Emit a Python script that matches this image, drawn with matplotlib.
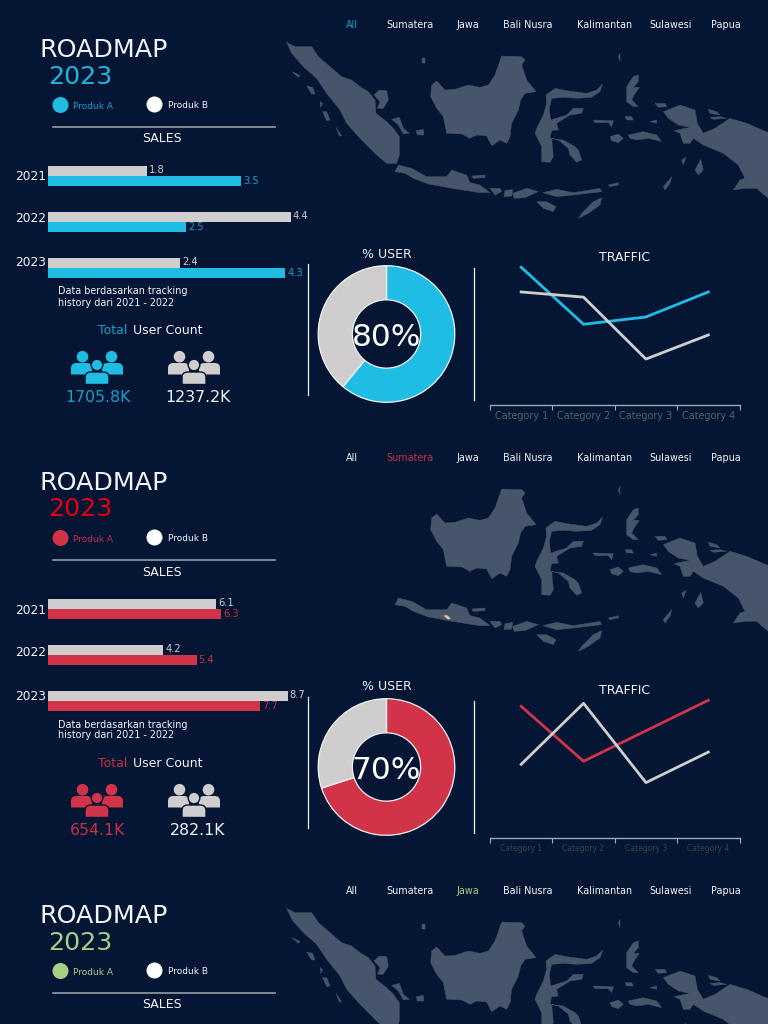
import matplotlib
matplotlib.use("Agg")
import matplotlib.pyplot as plt
from matplotlib.patches import Circle, PathPatch, Polygon
from matplotlib.path import Path

BG = "#041633"
LAND = "#465569"
GREY = "#cfcdce"
WHITE = "#f2f4f7"
RULE = "#a3a8b3"

regions = ["All", "Sumatera", "Jawa", "Bali Nusra", "Kalimantan", "Sulawesi", "Papua"]
categories = ["Category 1", "Category 2", "Category 3", "Category 4"]
years = ["2021", "2022", "2023"]

sales_a_all = [3.5, 2.5, 4.3]
sales_b_all = [1.8, 4.4, 2.4]
sales_a_sumatera = [6.3, 5.4, 7.7]
sales_b_sumatera = [6.1, 4.2, 8.7]

traffic_a_all = [4.5, 2.63, 2.87, 3.69]
traffic_b_all = [3.69, 3.52, 1.49, 2.28]
traffic_a_sumatera = [4.3, 2.5, 3.5, 4.5]
traffic_b_sumatera = [2.4, 4.4, 1.8, 2.8]

share_all = [61, 39]
share_sumatera = [70, 30]
share_labels = ["80%", "70%"]
count_labels_all = ["1705.8K", "1237.2K"]
count_labels_sumatera = ["654.1K", "282.1K"]

# map outlines (3x crop coords, see to_px)
SUMATRA = [
    [(20, 127), (45, 140), (95, 140), (115, 170), (150, 200), (185, 230), (215, 240), (240, 260),
     (265, 275), (285, 300), (288, 340), (320, 365), (340, 385), (358, 410), (358, 465), (350, 490),
     (320, 490), (290, 465), (240, 415), (200, 370), (180, 330), (140, 280), (110, 235), (70, 200),
     (35, 160)],
    [(36, 215), (60, 226), (55, 232)],
    [(80, 258), (98, 262), (105, 282), (95, 282)],
    [(128, 335), (140, 335), (150, 360), (140, 362)],
    [(168, 382), (185, 408), (178, 408)],
    [(120, 305), (128, 310), (122, 322)],
    [(335, 358), (358, 352), (370, 385), (388, 400), (370, 402), (355, 375)],
    [(408, 392), (430, 388), (432, 405), (412, 405)],
    [(425, 175), (435, 175), (435, 188), (425, 188)],
    [(282, 285), (298, 270), (320, 272), (325, 300), (310, 325), (292, 325), (300, 305)],
]
REST = [
    # kalimantan
    [(470, 243), (495, 270), (525, 268), (565, 255), (600, 262), (625, 255), (645, 225), (665, 168),
     (725, 170), (735, 180), (725, 195), (740, 240), (768, 275), (735, 280), (722, 300), (715, 330),
     (695, 370), (690, 410), (680, 430), (660, 420), (635, 437), (620, 408), (590, 405), (570, 415),
     (545, 402), (500, 400), (490, 350), (470, 325), (452, 290), (455, 255)],
    # sulawesi
    [(798, 285), (825, 265), (860, 272), (920, 280), (950, 270), (968, 252), (960, 275), (935, 292),
     (890, 295), (850, 292), (815, 295), (808, 325), (812, 360), (860, 345), (880, 325), (910, 325),
     (905, 340), (870, 345), (830, 370), (835, 390), (815, 392), (810, 415), (850, 420), (885, 440),
     (895, 450), (905, 480), (890, 487), (870, 465), (865, 445), (835, 420), (815, 415), (820, 470),
     (810, 487), (785, 485), (785, 440), (765, 400), (770, 385), (790, 345), (800, 310)],
    # maluku
    [(1060, 230), (1075, 225), (1075, 245), (1060, 262), (1078, 262), (1062, 285), (1055, 300),
     (1075, 320), (1060, 320), (1040, 305), (1040, 260)],
    [(1045, 405), (1090, 395), (1130, 405), (1145, 425), (1105, 415), (1070, 420), (1050, 415)],
    [(990, 410), (1015, 402), (1030, 415), (1015, 428), (995, 422)],
    [(940, 360), (1000, 362), (995, 380), (985, 368), (945, 368)],
    [(1125, 310), (1155, 310), (1160, 320), (1135, 322)],
    [(1110, 365), (1130, 360), (1130, 370)],
    [(1035, 350), (1055, 350), (1060, 360), (1040, 360)],
    [(1015, 170), (1020, 160), (1020, 185)],
    # papua
    [(1150, 335), (1200, 315), (1245, 330), (1252, 370), (1270, 400), (1305, 385), (1350, 355),
     (1400, 370), (1470, 400), (1470, 600), (1430, 565), (1395, 565), (1360, 570), (1380, 540),
     (1395, 535), (1375, 495), (1330, 460), (1270, 435), (1240, 415), (1230, 430), (1210, 430),
     (1200, 400), (1182, 392), (1230, 382), (1195, 375), (1165, 355)],
    [(1285, 328), (1310, 335), (1320, 345), (1290, 340)],
    [(1290, 352), (1320, 350), (1340, 355), (1300, 358)],
    [(1245, 510), (1262, 478), (1270, 510), (1255, 525)],
    [(1205, 480), (1218, 472), (1210, 495)],
    # java and nusa tenggara
    [(345, 515), (355, 495), (395, 505), (440, 530), (500, 530), (515, 510), (560, 525), (570, 548),
     (600, 555), (630, 578), (600, 578), (560, 572), (500, 562), (445, 552), (400, 535), (375, 520)],
    [(575, 528), (615, 525), (615, 533), (580, 535)],
    [(630, 565), (660, 565), (665, 575), (645, 585)],
    [(675, 572), (698, 568), (695, 588), (672, 590)],
    [(698, 580), (740, 565), (775, 575), (735, 593), (702, 595)],
    [(788, 578), (830, 568), (880, 578), (960, 565), (965, 575), (880, 585), (830, 590)],
    [(770, 605), (800, 605), (828, 620), (820, 635), (790, 625)],
    [(905, 640), (940, 605), (965, 593), (960, 615), (925, 640), (895, 655)],
    [(985, 555), (1015, 548), (1015, 555), (990, 560)],
    [(1150, 560), (1175, 530), (1170, 550), (1155, 570)],
]
HIGHLIGHT = [(490, 548), (500, 546), (513, 556), (505, 560)]


def to_px(points, dy):
    return [(280 + x / 3, y / 3 + dy) for x, y in points]


def px_axes(left, top, right, bottom):
    ax = fig.add_axes([left / 768, 1 - bottom / 1024, (right - left) / 768, (bottom - top) / 1024])
    ax.patch.set_alpha(0)
    return ax


def person(head_x, head_y, cx, top, bottom, half_w, color, outline=False):
    r = (bottom - top) * 0.45
    verts = [(cx - half_w, bottom), (cx - half_w, top + r), (cx - half_w, top), (cx - half_w + r, top),
             (cx + half_w - r, top), (cx + half_w, top), (cx + half_w, top + r), (cx + half_w, bottom),
             (cx - half_w, bottom)]
    codes = [Path.MOVETO, Path.LINETO, Path.CURVE3, Path.CURVE3, Path.LINETO, Path.CURVE3, Path.CURVE3,
             Path.LINETO, Path.CLOSEPOLY]
    edge = BG if outline else color
    lw = 1.0 if outline else 0
    bg.add_patch(PathPatch(Path(verts, codes), fc=color, ec=edge, lw=lw))
    bg.add_patch(Circle((head_x, head_y), 5.8, fc=color, ec=edge, lw=lw))


def people_icon(cx, dy, color):
    person(cx - 14.5, 356.7 + dy, cx - 15.5, 363 + dy, 374.5 + dy, 10.5, color)
    person(cx + 14.5, 356.7 + dy, cx + 15.5, 363 + dy, 374.5 + dy, 10.5, color)
    person(cx, 365 + dy, cx, 372 + dy, 384.5 + dy, 12, color, outline=True)


def header(dy, region_on, accent, accent_text, title_color, with_sumatra=True):
    xs = [346, 386, 456, 503, 576.5, 649, 710.5]
    for name, x in zip(regions, xs):
        bg.text(x, 25 + dy, name, color=accent_text if name == region_on else WHITE, fontsize=6.9, va="center")
    for shape in (SUMATRA if with_sumatra else []) + REST:
        bg.add_patch(Polygon(to_px(shape, dy), closed=True, fc=LAND, ec=LAND, lw=0.3))
    bg.text(40, 50 + dy, "ROADMAP", color=WHITE, fontsize=18.3, va="center")
    bg.text(48, 76.5 + dy, "2023", color=title_color, fontsize=18.2, va="center")
    bg.add_patch(Circle((60.5, 105 + dy), 8, fc=accent, ec="none"))
    bg.add_patch(Circle((154.5, 104.5 + dy), 8, fc="white", ec="none"))
    bg.text(73, 106.5 + dy, "Produk A", color=accent_text, fontsize=6.5, va="center")
    bg.text(168, 105.5 + dy, "Produk B", color=WHITE, fontsize=6.5, va="center")
    bg.plot([53, 275], [127 + dy, 127 + dy], color=RULE, lw=1.1)
    bg.text(162, 139 + dy, "SALES", color=WHITE, fontsize=9, ha="center", va="center")


def sales_bars(dy, values_a, values_b, accent, accent_text, px_per_unit):
    ax = px_axes(47.5, 153 + dy, 300, 291 + dy)
    ys = range(len(years))
    ax.barh([y - 0.105 for y in ys], values_b, height=0.21, color=GREY)
    ax.barh([y + 0.105 for y in ys], values_a, height=0.21, color=accent)
    ax.set_xlim(0, 252.5 / px_per_unit)
    ax.set_ylim(2.5, -0.5)
    ax.axis("off")
    for y, a, b in zip(ys, values_a, values_b):
        ax.annotate(str(b), (b, y - 0.12), xytext=(1.5, 0), textcoords="offset points",
                    color=GREY, fontsize=7.1, va="center", annotation_clip=False)
        ax.annotate(str(a), (a, y + 0.1), xytext=(1.5, 0), textcoords="offset points",
                    color=accent_text, fontsize=7.1, va="center", annotation_clip=False)
    for label, y in zip(years, [177, 219, 263]):
        bg.text(46.5, y + dy, label, color=WHITE, fontsize=8.8, ha="right", va="center")


def user_block(dy, counts, accent, accent_text):
    bg.text(57.5, 291.5 + dy, "Data berdasarkan tracking", color=WHITE, fontsize=6.9, va="center")
    bg.text(57.5, 302.5 + dy, "history dari 2021 - 2022", color=WHITE, fontsize=6.9, va="center")
    bg.text(98, 330.5 + dy, "Total", color=accent_text, fontsize=9, va="center")
    bg.text(133, 330.5 + dy, "User Count", color=WHITE, fontsize=9, va="center")
    people_icon(97, dy, accent)
    people_icon(194, dy, GREY)
    bg.text(98, 397.5 + dy, counts[0], color=accent_text, fontsize=11.3, ha="center", va="center")
    bg.text(198, 397.5 + dy, counts[1], color=WHITE, fontsize=11.3, ha="center", va="center")


def donut(dy, share, label, accent):
    bg.plot([307.5, 307.5], [264 + dy, 395 + dy], color=WHITE, lw=0.9)
    bg.plot([473.5, 473.5], [268 + dy, 400 + dy], color=WHITE, lw=0.9)
    bg.text(386.5, 254 + dy, "% USER", color=WHITE, fontsize=9, ha="center", va="center")
    ax = px_axes(317.5, 265 + dy, 455.5, 403 + dy)
    ax.pie(share, colors=[accent, GREY], startangle=90, counterclock=False,
           wedgeprops={"width": 0.5, "edgecolor": WHITE, "linewidth": 0.9})
    ax.set_xlim(-1.01, 1.01)
    ax.set_ylim(-1.01, 1.01)
    ax.text(0, -0.05, label, color="white", fontsize=22.5, ha="center", va="center")


def traffic(dy, values_a, values_b, accent, tick_color, tick_size):
    bg.text(625, 257.5 + dy, "TRAFFIC", color=WHITE, fontsize=9, ha="center", va="center")
    ax = px_axes(490, 252 + dy, 739.5, 404.5 + dy)
    pos = range(len(categories))
    ax.plot(pos, values_a, color=accent, lw=2)
    ax.plot(pos, values_b, color=GREY, lw=2)
    ax.set_xlim(-0.5, 3.5)
    ax.set_ylim(0, 5)
    ax.set_yticks([])
    ax.set_xticks([-0.5, 0.5, 1.5, 2.5, 3.5])
    ax.set_xticklabels([])
    ax.set_xticks(list(pos), categories, minor=True)
    ax.tick_params(axis="x", which="major", length=3.5, width=0.8, color=RULE)
    ax.tick_params(axis="x", which="minor", length=0, pad=4.5, labelsize=tick_size, labelcolor=tick_color)
    for side in ["top", "left", "right"]:
        ax.spines[side].set_visible(False)
    ax.spines["bottom"].set_color(RULE)
    ax.spines["bottom"].set_linewidth(1)


fig = plt.figure(figsize=(7.68, 10.24), dpi=100, facecolor=BG)
bg = fig.add_axes([0, 0, 1, 1])
bg.set_xlim(0, 768)
bg.set_ylim(1024, 0)
bg.axis("off")

# panel 1, all regions
header(0, "All", "#1fbde3", "#1a9fc6", "#1fb5dc")
sales_bars(0, sales_a_all, sales_b_all, "#1fbde3", "#1a9fc6", 55.3)
user_block(0, count_labels_all, "#1fbde3", "#1a9fc6")
donut(0, share_all, share_labels[0], "#1fbde3")
traffic(0, traffic_a_all, traffic_b_all, "#1fbde3", "#5a5e66", 6.9)

# panel 2, sumatera
header(433, "Sumatera", "#d13448", "#c93045", "#e6000e", with_sumatra=False)
bg.add_patch(Polygon(to_px(HIGHLIGHT, 433), closed=True, fc="#d8c49a", ec="none"))
sales_bars(433, sales_a_sumatera, sales_b_sumatera, "#d13448", "#c93045", 27.6)
user_block(433, count_labels_sumatera, "#d13448", "#c93045")
donut(433, share_sumatera, share_labels[1], "#d13448")
traffic(433, traffic_a_sumatera, traffic_b_sumatera, "#d13448", "#3c4048", 5.5)

# panel 3, cut off by the page
header(866, "Jawa", "#a5d085", "#a5d085", "#a5d085")

fig.savefig("out.png", dpi=100, facecolor=BG)
